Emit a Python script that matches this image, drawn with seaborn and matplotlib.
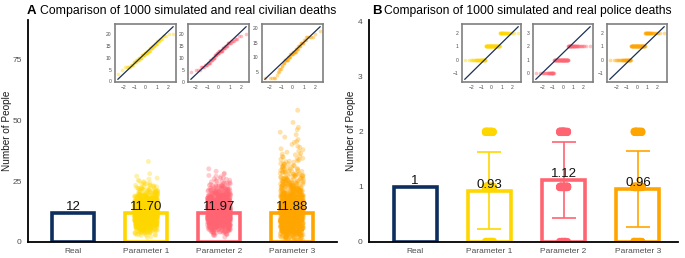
import numpy as np
import pandas as pd
import seaborn as sns
import matplotlib
matplotlib.use("Agg")
import matplotlib.pyplot as plt
from matplotlib.ticker import MultipleLocator
from statistics import NormalDist

# ---------------- data ----------------
categories = ["Real", "Parameter 1", "Parameter 2", "Parameter 3"]
colors = ["#0e2f5e", "#FFD700", "#FF6472", "#FFA500"]

civ_means = [12, 11.70, 11.97, 11.88]
civ_labels = ["12", "11.70", "11.97", "11.88"]
civ_sd = [0, 4.3, 4.5, 6.8]
# histogram counts of the simulated civilian deaths, index = number of deaths
civ_p1_counts = [0, 0, 2, 8, 15, 25, 38, 50, 62, 72, 80, 83, 82, 78, 70, 62, 52, 42,
                 33, 25, 19, 14, 10, 7, 5, 3, 2, 1, 1, 0, 0, 0, 0, 1]
civ_p2_counts = [0, 0, 1, 6, 13, 22, 34, 46, 58, 68, 76, 80, 82, 80, 75, 68, 60, 51,
                 42, 34, 26, 20, 15, 11, 8, 5, 4, 3, 2, 1, 1]
civ_p3_counts = [5, 10, 18, 25, 33, 40, 45, 50, 53, 55, 55, 54, 52, 50, 47, 44, 40, 36,
                 33, 30, 27, 24, 21, 18, 16, 14, 12, 10, 9, 8, 7, 6, 5, 4, 4, 3, 3, 2,
                 2, 2, 1, 2, 1, 1, 1, 1, 1, 1, 0, 1, 0, 0, 0, 0, 1]

pol_means = [1, 0.93, 1.12, 0.96]
pol_labels = ["1", "0.93", "1.12", "0.96"]
pol_sd = [0, 0.70, 0.69, 0.69]
pol_values = [0, 1, 2]
pol_p1_counts = [280, 510, 210]
pol_p2_counts = [185, 510, 305]
pol_p3_counts = [259, 522, 219]

# samples shown in the Q-Q insets
qq_civ_p1 = [3, 5, 6, 6, 6, 6, 6, 7, 7, 7, 7, 8, 8, 8, 8, 8, 9, 9, 9, 9, 9, 9, 10, 10, 10, 10,
             10, 10, 10, 11, 11, 11, 11, 11, 11, 11, 11, 12, 12, 12, 12, 12, 12, 12, 12, 13,
             13, 13, 13, 13, 13, 13, 14, 14, 14, 14, 14, 14, 15, 15, 15, 15, 15, 16, 16, 16,
             16, 16, 17, 17, 17, 17, 18, 18, 18, 19, 19, 19, 20, 20]
qq_civ_p2 = [4, 5, 5, 5, 6, 6, 6, 6, 7, 7, 7, 7, 8, 8, 8, 8, 8, 9, 9, 9, 9, 9, 10, 10, 10, 10,
             10, 11, 11, 11, 11, 11, 12, 12, 12, 12, 12, 12, 13, 13, 13, 13, 13, 13, 13, 13,
             13, 14, 14, 14, 14, 14, 14, 15, 15, 15, 15, 15, 16, 16, 16, 16, 16, 16, 17, 17,
             17, 17, 18, 18, 18, 19, 19, 20]
qq_civ_p3 = [3, 3, 3, 3, 3, 4, 5, 5, 6, 6, 6, 7, 7, 8, 8, 8, 9, 9, 9, 9, 9, 9, 9, 10, 10, 10,
             10, 10, 11, 11, 11, 11, 11, 11, 12, 12, 12, 12, 12, 12, 12, 13, 13, 13, 13, 13,
             14, 14, 14, 14, 14, 15, 15, 15, 15, 15, 16, 16, 16, 17, 17, 17, 17, 17, 17, 18, 19]
qq_pol_p1_counts = [36, 67, 27]
qq_pol_p2_counts = [24, 66, 40]
qq_pol_p3_counts = [35, 67, 28]

# ---------------- helpers ----------------
def expand(counts, values=None, spread=0.8):
    """Turn histogram counts into individual observations, spreading each
    integer value evenly over a small vertical band (deterministic jitter)."""
    if values is None:
        values = range(len(counts))
    out = []
    for v, c in zip(values, counts):
        if c > 0:
            out.extend(v + ((np.arange(c) + 0.5) / c - 0.5) * spread)
    return np.array(out)


def qq_data(sample):
    s = np.sort(np.asarray(sample, dtype=float))
    n = len(s)
    a = 3 / 8 if n <= 10 else 0.5
    theo = np.array([NormalDist().inv_cdf((i + 1 - a) / (n + 1 - 2 * a)) for i in range(n)])
    q1, q3 = np.quantile(s, [0.25, 0.75])
    t1, t3 = NormalDist().inv_cdf(0.25), NormalDist().inv_cdf(0.75)
    slope = (q3 - q1) / (t3 - t1)
    inter = q1 - slope * t1
    return theo, s, slope, inter


def style_main(ax):
    sns.despine(ax=ax)
    for sp in ["left", "bottom"]:
        ax.spines[sp].set_linewidth(1.3)
        ax.spines[sp].set_color("black")
    ax.tick_params(axis="both", length=2.5, width=0.8, color="#333333",
                   labelsize=6, labelcolor="#4d4d4d", pad=2)
    ax.set_xlabel("")
    ax.set_ylabel("Number of People", fontsize=7.2, color="#1a1a1a")


def draw_panel(ax, means, labels, sds, sims, spread, jitter, size, ylim, yticks):
    sns.barplot(x=categories, y=means, hue=categories, palette=colors, order=categories,
                hue_order=categories, fill=False, width=0.58, linewidth=2.6,
                legend=False, ax=ax, errorbar=None)
    for p in ax.patches:
        p.set_facecolor("white")
        p.set_zorder(1)
    frames = []
    for cat, counts in sims.items():
        vals, cnts = counts
        y = expand(cnts, vals, spread)
        frames.append(pd.DataFrame({"cat": cat, "y": y}))
    df = pd.concat(frames, ignore_index=True)
    sns.stripplot(data=df, x="cat", y="y", hue="cat", order=categories,
                  hue_order=categories, palette=colors, jitter=jitter, size=size,
                  alpha=0.33, linewidth=0, legend=False, ax=ax, zorder=2)
    for i, (m, sd) in enumerate(zip(means, sds)):
        if sd > 0:
            ax.errorbar(i, m, yerr=sd, color=colors[i], capsize=8.3, elinewidth=1.2,
                        capthick=1.2, zorder=3)
    for i, (m, lab) in enumerate(zip(means, labels)):
        ax.text(i, m, lab, ha="center", va="bottom", fontsize=9.5, color="#111111",
                zorder=4)
    ax.set_ylim(*ylim)
    ax.set_yticks(yticks)
    style_main(ax)


def draw_inset(fig, rect, sample, color, step):
    ax = fig.add_axes(rect)
    theo, s, slope, inter = qq_data(sample)
    sns.scatterplot(x=theo, y=s, color=color, alpha=0.4, s=7, linewidth=0, ax=ax)
    xs = np.array([theo.min(), theo.max()])
    sns.lineplot(x=xs, y=inter + slope * xs, color="#1b2f55", linewidth=0.9, ax=ax)
    ax.xaxis.set_major_locator(MultipleLocator(1))
    ax.yaxis.set_major_locator(MultipleLocator(step))
    ax.tick_params(axis="both", length=1.5, width=0.5, color="#555555", labelsize=3.6,
                   labelcolor="#4d4d4d", pad=1)
    for sp in ax.spines.values():
        sp.set_color("#7f7f7f")
        sp.set_linewidth(1.2)
    ax.set_xlabel("")
    ax.set_ylabel("")
    ax.margins(0.05)
    return ax


# ---------------- figure ----------------
sns.set_theme(style="white")
plt.rcParams["font.family"] = ["Liberation Sans", "DejaVu Sans"]

W, H = 685, 258
fig = plt.figure(figsize=(W / 100, H / 100), dpi=100)

def rect(x0, y0, x1, y1):
    return [x0 / W, 1 - y1 / H, (x1 - x0) / W, (y1 - y0) / H]

axA = fig.add_axes(rect(28, 20, 337, 242))
axB = fig.add_axes(rect(369, 20, 678, 242))

civ_sims = {
    "Parameter 1": (range(len(civ_p1_counts)), civ_p1_counts),
    "Parameter 2": (range(len(civ_p2_counts)), civ_p2_counts),
    "Parameter 3": (range(len(civ_p3_counts)), civ_p3_counts),
}
pol_sims = {
    "Parameter 1": (pol_values, pol_p1_counts),
    "Parameter 2": (pol_values, pol_p2_counts),
    "Parameter 3": (pol_values, pol_p3_counts),
}

np.random.seed(3)
draw_panel(axA, civ_means, civ_labels, civ_sd, civ_sims, 0.8, 0.16, 3.5, (0, 91), [0, 25, 50, 75])
axA.set_xlim(-0.62, 3.62)
draw_panel(axB, pol_means, pol_labels, pol_sd, pol_sims, 0.04, 0.06, 4.6, (0, 4.03), [0, 1, 2, 3, 4])
axB.set_xlim(-0.62, 3.54)

axA.yaxis.set_label_coords(-0.053, 0.5)
axB.yaxis.set_label_coords(-0.042, 0.5)

# insets
civ_qq = [qq_civ_p1, qq_civ_p2, qq_civ_p3]
for k, (x0, x1) in enumerate([(115, 176), (188, 249), (262, 323)]):
    draw_inset(fig, rect(x0, 24, x1, 82), civ_qq[k], colors[k + 1], 5)

qq_pol = [qq_pol_p1_counts, qq_pol_p2_counts, qq_pol_p3_counts]
for k, (x0, x1) in enumerate([(462, 521), (533, 593), (607, 667)]):
    sample = np.repeat(pol_values, qq_pol[k])
    draw_inset(fig, rect(x0, 24, x1, 82), sample, colors[k + 1], 1)

# titles
ty = 1 - 14 / H
fig.text(27 / W, ty, "A", fontsize=9.5, fontweight="bold", va="baseline", color="black")
fig.text(40 / W, ty, "Comparison of 1000 simulated and real civilian deaths",
         fontsize=8.8, va="baseline", color="black")
fig.text(372 / W, ty, "B", fontsize=9.5, fontweight="bold", va="baseline", color="black")
fig.text(384 / W, ty, "Comparison of 1000 simulated and real police deaths",
         fontsize=8.7, va="baseline", color="black")

fig.savefig("out.png", dpi=100)
